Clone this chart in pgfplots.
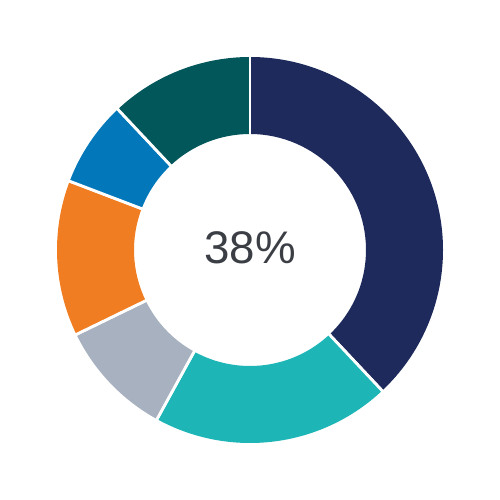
\documentclass[border=0pt]{standalone}
\usepackage{pgfplots}
\usepackage{pgfplotstable}
\usepackage{fontspec}
\setmainfont{Liberation Sans}
\pgfplotsset{compat=1.18}

\definecolor{navy}{HTML}{1D2A5B}
\definecolor{tealc}{HTML}{1DB5B6}
\definecolor{slate}{HTML}{A8B1BF}
\definecolor{orangec}{HTML}{F07D21}
\definecolor{bluec}{HTML}{0277B9}
\definecolor{pine}{HTML}{02575A}
\definecolor{labelgray}{HTML}{3B3F45}

% shares in percent, clockwise from the top
\pgfplotstableread{
share color
38 navy
20 tealc
9.8 slate
13 orangec
7.2 bluec
12 pine
}\donutdata

\def\rout{3.86}
\def\rin{2.32}

\begin{document}
\begin{tikzpicture}
\begin{axis}[
    x=1cm, y=1cm,
    xmin=-5, xmax=5, ymin=-5, ymax=5,
    disabledatascaling,
    hide axis,
    clip=false,
]
\path (axis cs:-5,-5) rectangle (axis cs:5,5);
\pgfplotstablegetrowsof{\donutdata}
\pgfmathtruncatemacro\lastrow{\pgfplotsretval-1}
\xdef\startangle{90}
\foreach \i in {0,...,\lastrow}{
    \pgfplotstablegetelem{\i}{share}\of\donutdata
    \let\share\pgfplotsretval
    \pgfplotstablegetelem{\i}{color}\of\donutdata
    \let\col\pgfplotsretval
    \pgfmathsetmacro\endangle{\startangle-3.6*\share}
    \edef\temp{
        \noexpand\fill[\col]
            (axis cs:{\rout*cos(\startangle)},{\rout*sin(\startangle)})
            arc[start angle=\startangle, end angle=\endangle, radius=\rout cm]
            -- (axis cs:{\rin*cos(\endangle)},{\rin*sin(\endangle)})
            arc[start angle=\endangle, end angle=\startangle, radius=\rin cm]
            -- cycle;
        \noexpand\draw[white, line width=1.6pt]
            (axis cs:{(\rin-0.1)*cos(\startangle)},{(\rin-0.1)*sin(\startangle)})
            -- (axis cs:{(\rout+0.1)*cos(\startangle)},{(\rout+0.1)*sin(\startangle)});
        \noexpand\draw[white, line width=1.6pt]
            (axis cs:{(\rin-0.1)*cos(\endangle)},{(\rin-0.1)*sin(\endangle)})
            -- (axis cs:{(\rout+0.1)*cos(\endangle)},{(\rout+0.1)*sin(\endangle)});
    }
    \temp
    \xdef\startangle{\endangle}
}
\node[anchor=base, text=labelgray, font=\fontsize{26}{30}\selectfont]
    at (axis cs:0,-0.28) {38\%};
\end{axis}
\end{tikzpicture}
\end{document}
